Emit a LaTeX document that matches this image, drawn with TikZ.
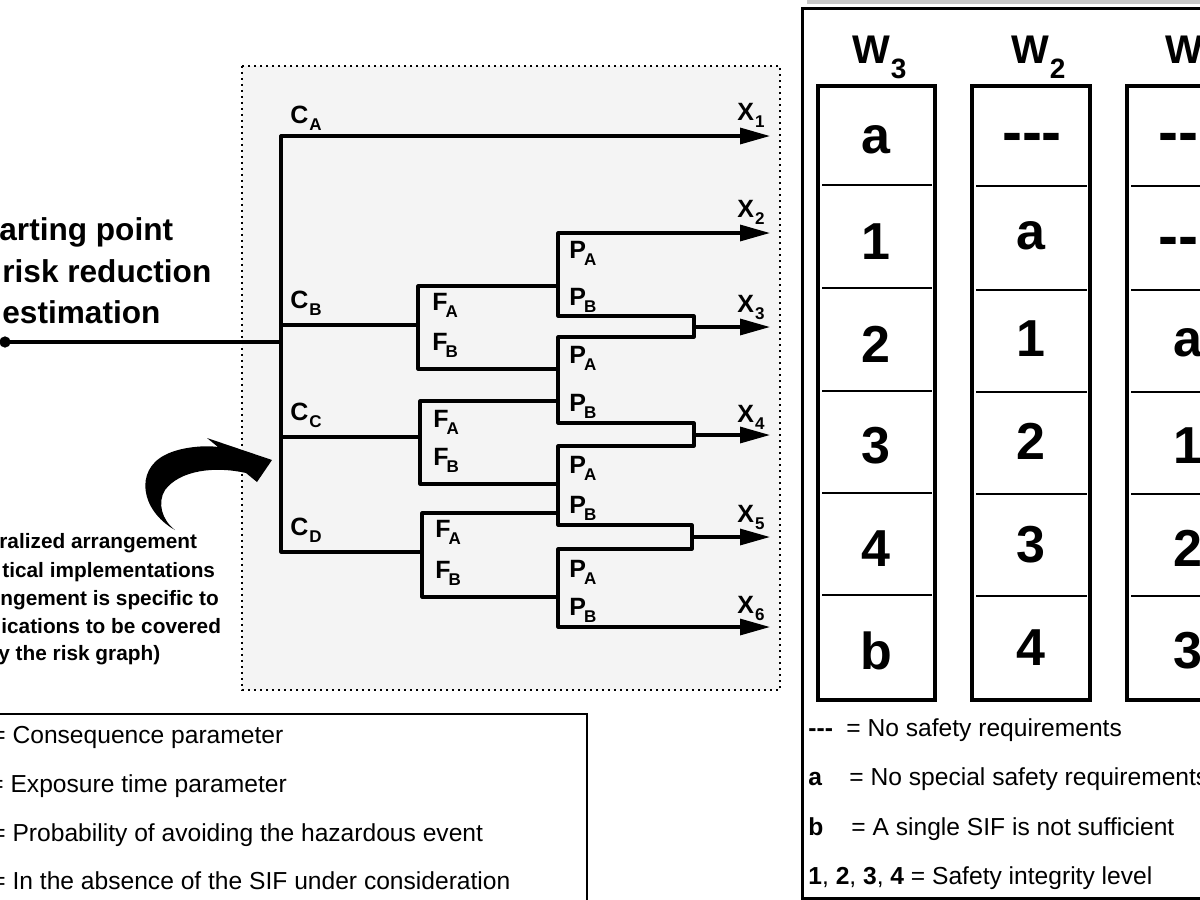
\documentclass[tikz,border=0pt]{standalone}
\usepackage{fontspec}
\setmainfont{Liberation Sans}
\usepackage{xcolor}
\usetikzlibrary{arrows.meta}

\definecolor{panelgray}{HTML}{F4F4F4}
\definecolor{stripgray}{HTML}{C8C8C8}

\newcommand{\gsub}[3][0.5pt]{#2\kern#1\raisebox{-3.5pt}{\fontsize{8.5}{8.5}\selectfont #3}}
\newcommand{\wsub}[2]{#1\kern0.3pt\raisebox{-7.5pt}{\fontsize{14}{14}\selectfont #2}}

\tikzset{
  wire/.style={line width=1.6pt, line join=round},
  tip/.style={-{Triangle[length=15pt,width=8pt]}},
  bothtips/.style={{Triangle[length=15pt,width=8pt]}-{Triangle[length=15pt,width=8pt]}},
  lbl/.style={anchor=base west, inner sep=0pt, font=\fontsize{12.5}{14}\selectfont\bfseries},
  bigtxt/.style={anchor=base west, inner sep=0pt, font=\fontsize{15.8}{18}\selectfont\bfseries},
  notetxt/.style={anchor=base west, inner sep=0pt, font=\fontsize{10.4}{12}\selectfont\bfseries},
  legtxt/.style={anchor=base west, inner sep=0pt, font=\fontsize{12.3}{14}\selectfont},
  legbold/.style={legtxt, font=\fontsize{12.3}{14}\selectfont\bfseries},
  cellbox/.style={line width=1.6pt},
  cellrule/.style={line width=1.2pt},
  cell/.style={inner sep=0pt, font=\fontsize{26}{28}\selectfont\bfseries},
  dashcell/.style={inner sep=0pt, font=\fontsize{30}{30}\selectfont\bfseries},
  whead/.style={anchor=base west, inner sep=0pt, font=\fontsize{20}{24}\selectfont\bfseries},
  dotborder/.style={line width=1.2pt, dash pattern=on 1pt off 2pt}
}

\begin{document}
\begin{tikzpicture}[x=0.5pt, y=-0.5pt]
\useasboundingbox (0,0) rectangle (1200,900);
\clip (0,0) rectangle (1200,900);

% shaded frame of the risk graph
\fill[panelgray] (242,66) rectangle (780,690);
\draw[dotborder] (242,66) rectangle (780,690);

% branch points
\coordinate (s) at (5,342);
\coordinate (t) at (281,342);
\coordinate (ca) at (281,136);
\coordinate (cb) at (281,325);
\coordinate (cc) at (281,437);
\coordinate (cd) at (281,552);
\coordinate (fb) at (418,325);
\coordinate (fbt) at (418,286);
\coordinate (fbb) at (418,369);
\coordinate (fc) at (420,437);
\coordinate (fct) at (420,401);
\coordinate (fcb) at (420,484);
\coordinate (fd) at (422,552);
\coordinate (fdt) at (422,513);
\coordinate (fdb) at (422,597);
\coordinate (p1t) at (558,233);
\coordinate (p1b) at (558,316);
\coordinate (p2t) at (558,337);
\coordinate (p2b) at (558,423);
\coordinate (p3t) at (558,446);
\coordinate (p3b) at (558,525);
\coordinate (p4t) at (558,549);
\coordinate (p4b) at (558,627);
\coordinate (m3t) at (694,316);
\coordinate (m3b) at (694,337);
\coordinate (m3) at (694,327);
\coordinate (m4t) at (694,423);
\coordinate (m4b) at (694,446);
\coordinate (m4) at (694,435);
\coordinate (m5t) at (692,525);
\coordinate (m5b) at (692,549);
\coordinate (m5) at (692,537);
\coordinate (x1) at (770,136);
\coordinate (x2) at (770,233);
\coordinate (x3) at (770,327);
\coordinate (x4) at (770,435);
\coordinate (x5) at (770,537);
\coordinate (x6) at (770,627);

% graph
\filldraw[black] (s) circle (2.6pt);
\draw[wire] (s) -- (t);
\draw[wire,tip] (fd) -- (cd) -- (ca) -- (x1);
\draw[wire] (cb) -- (fb) (fbt -| p1t) -- (fbt) -- (fbb) -- (fbb -| p1t);
\draw[wire] (cc) -- (fc) (fct -| p1t) -- (fct) -- (fcb) -- (fcb -| p1t);
\draw[wire] (fdt -| p1t) -- (fdt) -- (fdb) -- (fdb -| p1t);
\draw[wire,bothtips] (x2) -- (p1t) -- (p1b) -- (m3t) -- (m3b) -- (p2t) -- (p2b) -- (m4t) -- (m4b) -- (p3t) -- (p3b) -- (m5t) -- (m5b) -- (p4t) -- (p4b) -- (x6);
\draw[wire,tip] (m3) -- (x3);
\draw[wire,tip] (m4) -- (x4);
\draw[wire,tip] (m5) -- (x5);

% parameter labels
\node[lbl] (lca) at (290,123) {\gsub{C}{A}};
\node[lbl] (lcb) at (290,308) {\gsub{C}{B}};
\node[lbl] (lcc) at (290,420) {\gsub{C}{C}};
\node[lbl] (lcd) at (290,535) {\gsub{C}{D}};
\node[lbl] (lfa1) at (432,310) {\gsub[-1pt]{F}{A}};
\node[lbl] (lfb1) at (432,350) {\gsub[-1pt]{F}{B}};
\node[lbl] (lfa2) at (433,427) {\gsub[-1pt]{F}{A}};
\node[lbl] (lfb2) at (433,465) {\gsub[-1pt]{F}{B}};
\node[lbl] (lfa3) at (435,537) {\gsub[-1pt]{F}{A}};
\node[lbl] (lfb3) at (435,578) {\gsub[-1pt]{F}{B}};
\node[lbl] (lpa1) at (569,258) {\gsub[-1pt]{P}{A}};
\node[lbl] (lpb1) at (569,305) {\gsub[-1pt]{P}{B}};
\node[lbl] (lpa2) at (569,363) {\gsub[-1pt]{P}{A}};
\node[lbl] (lpb2) at (569,411) {\gsub[-1pt]{P}{B}};
\node[lbl] (lpa3) at (569,473) {\gsub[-1pt]{P}{A}};
\node[lbl] (lpb3) at (569,513) {\gsub[-1pt]{P}{B}};
\node[lbl] (lpa4) at (569,577) {\gsub[-1pt]{P}{A}};
\node[lbl] (lpb4) at (569,615) {\gsub[-1pt]{P}{B}};
\node[lbl] (lx1) at (737,120) {\gsub{X}{1}};
\node[lbl] (lx2) at (737,217) {\gsub{X}{2}};
\node[lbl] (lx3) at (737,312) {\gsub{X}{3}};
\node[lbl] (lx4) at (737,422) {\gsub{X}{4}};
\node[lbl] (lx5) at (737,522) {\gsub{X}{5}};
\node[lbl] (lx6) at (737,613) {\gsub{X}{6}};

% starting point text and note
\node[bigtxt] (st1) at (-1,240) {arting point};
\node[bigtxt] (st2) at (2,282) {risk reduction};
\node[bigtxt] (st3) at (2,323) {estimation};
\node[notetxt] (nt1) at (-1,548) {ralized arrangement};
\node[notetxt] (nt2) at (2,577) {tical implementations};
\node[notetxt] (nt3) at (0,605) {ngement is specific to};
\node[notetxt] (nt4) at (1,633) {ications to be covered};
\node[notetxt] (nt5) at (-2,660) {y the risk graph)};

% curved pointer
\fill[black] (175,530) .. controls (140,510) and (135,470) .. (165,455)
  .. controls (180,447) and (205,445) .. (218,447) -- (207,438) -- (272,460)
  -- (257,482) -- (246,473) .. controls (215,466) and (180,470) .. (165,490)
  .. controls (157,503) and (162,520) .. (175,530) -- cycle;

% parameter legend
\draw[line width=1pt] (-5,714) -- (587,714) -- (587,905);
\node[legtxt] (lg1) at (-9,743) {= Consequence parameter};
\node[legtxt] (lg2) at (-11,792) {= Exposure time parameter};
\node[legtxt] (lg3) at (-9,841) {= Probability of avoiding the hazardous event};
\node[legtxt] (lg4) at (-9,889) {= In the absence of the SIF under consideration};

% SIL table
\fill[stripgray] (807,0) rectangle (1200,4);
\draw[line width=1.5pt] (802,8) rectangle (1215,898);
\node[whead] (hw3) at (852,63) {\wsub{W}{3}};
\node[whead] (hw2) at (1011,63) {\wsub{W}{2}};
\node[whead] (hw1) at (1165,63) {\wsub{W}{1}};

\draw[cellbox] (818,86) rectangle (935,700);
\draw[cellbox] (972,86) rectangle (1090,700);
\draw[cellbox] (1127,86) rectangle (1245,700);

\draw[cellrule] (822,185) -- (932,185);
\draw[cellrule] (822,288) -- (932,288);
\draw[cellrule] (822,391) -- (932,391);
\draw[cellrule] (822,493) -- (932,493);
\draw[cellrule] (822,595) -- (932,595);
\draw[cellrule] (976,186) -- (1087,186);
\draw[cellrule] (976,290) -- (1087,290);
\draw[cellrule] (976,392) -- (1087,392);
\draw[cellrule] (976,494) -- (1087,494);
\draw[cellrule] (976,596) -- (1087,596);
\draw[cellrule] (1131,186) -- (1242,186);
\draw[cellrule] (1131,290) -- (1242,290);
\draw[cellrule] (1131,392) -- (1242,392);
\draw[cellrule] (1131,494) -- (1242,494);
\draw[cellrule] (1131,596) -- (1242,596);

\node[cell] (w3r1) at (876,140) {a};
\node[cell] (w3r2) at (876,242) {1};
\node[cell] (w3r3) at (876,344) {2};
\node[cell] (w3r4) at (876,446) {3};
\node[cell] (w3r5) at (876,549) {4};
\node[cell] (w3r6) at (876,651) {b};
\node[dashcell] (w2r1) at (1032,143) {{-}{-}{-}};
\node[cell] (w2r2) at (1031,236) {a};
\node[cell] (w2r3) at (1031,339) {1};
\node[cell] (w2r4) at (1031,441) {2};
\node[cell] (w2r5) at (1031,545) {3};
\node[cell] (w2r6) at (1031,648) {4};
\node[dashcell] (w1r1) at (1188,143) {{-}{-}{-}};
\node[dashcell] (w1r2) at (1188,247) {{-}{-}{-}};
\node[cell] (w1r3) at (1188,343) {a};
\node[cell] (w1r4) at (1188,446) {1};
\node[cell] (w1r5) at (1188,548) {2};
\node[cell] (w1r6) at (1188,651) {3};

% SIL legend
\node[legbold] (key1) at (808,736) {{-}{-}{-}};
\node[legtxt] (keytxt1) at (846,736) {= No safety requirements};
\node[legbold] (key2) at (808,785) {a};
\node[legtxt] (keytxt2) at (849,785) {= No special safety requirements};
\node[legbold] (key3) at (808,835) {b};
\node[legtxt] (keytxt3) at (851,835) {= A single SIF is not sufficient};
\node[legtxt] (key4) at (808,884) {\textbf{1}, \textbf{2}, \textbf{3}, \textbf{4} = Safety integrity level};
\end{tikzpicture}
\end{document}
